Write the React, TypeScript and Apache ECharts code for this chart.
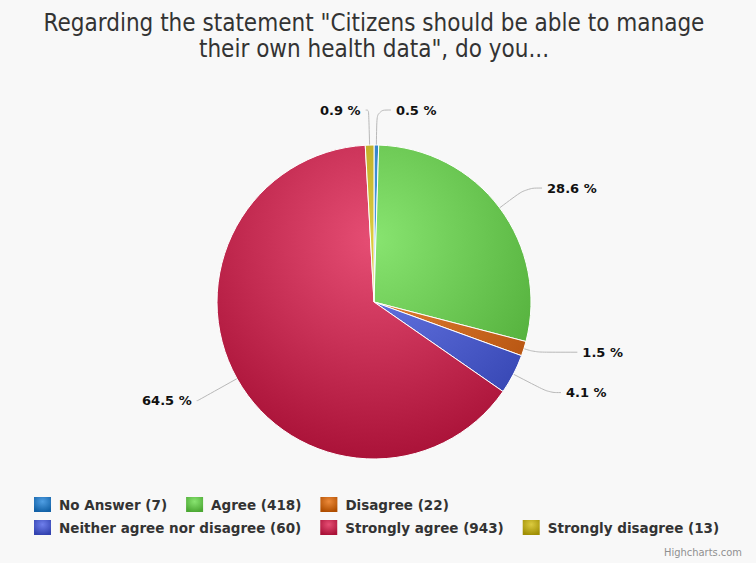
import React, { useEffect, useRef } from "react";
import * as echarts from "echarts";

const categories = [
  "No Answer",
  "Agree",
  "Disagree",
  "Neither agree nor disagree",
  "Strongly agree",
  "Strongly disagree",
];
const counts = [7, 418, 22, 60, 943, 13];
const legendRow1 = ["No Answer", "Agree", "Disagree"];
const legendRow2 = ["Neither agree nor disagree", "Strongly agree", "Strongly disagree"];
const titleText =
  'Regarding the statement "Citizens should be able to manage\ntheir own health data", do you...';
const creditText = "Highcharts.com";

// styling
const baseColors = ["#4f9ee3", "#88e470", "#ec8a3a", "#6f7fec", "#e64e74", "#dccb40"];
const lineLens = [
  [35, 14],
  [33, 16],
  [12, 42],
  [40, 12],
  [45, 1],
  [35, 3],
];

function darken(hex: string, amt: number) {
  const n = parseInt(hex.slice(1), 16);
  const r = Math.max(0, ((n >> 16) & 255) - amt);
  const g = Math.max(0, ((n >> 8) & 255) - amt);
  const b = Math.max(0, (n & 255) - amt);
  return `rgb(${r},${g},${b})`;
}

export default function App() {
  const ref = useRef<HTMLDivElement>(null);
  useEffect(() => {
    if (!ref.current) return;
    const chart = echarts.init(ref.current, undefined, { renderer: "svg" });
    const total = counts.reduce((a, b) => a + b, 0);
    const cx = 374,
      cy = 302,
      R = 157;
    const sliceGrad = (c: string) => ({
      type: "radial",
      x: cx,
      y: cy - R + 0.3 * 2 * R,
      r: 280,
      global: true,
      colorStops: [
        { offset: 0, color: c },
        { offset: 1, color: darken(c, 76) },
      ],
    });
    const localGrad = (c: string) => ({
      type: "radial",
      x: 0.5,
      y: 0.3,
      r: 0.7,
      colorStops: [
        { offset: 0, color: c },
        { offset: 1, color: darken(c, 60) },
      ],
    });
    const legendCommon = {
      orient: "horizontal",
      left: 29,
      itemWidth: 17,
      itemHeight: 15,
      itemGap: 19,
      icon: "rect",
      textStyle: {
        fontFamily: "DejaVu Sans",
        fontWeight: "bold",
        fontSize: 13.5,
        color: "#333",
        padding: [0, 0, 0, 3],
      },
      formatter: (name: string) => `${name} (${counts[categories.indexOf(name)]})`,
    };
    const legendData = (names: string[]) =>
      names.map((n) => ({
        name: n,
        itemStyle: { color: localGrad(baseColors[categories.indexOf(n)]), borderWidth: 0 },
      }));
    chart.setOption({
      animation: false,
      backgroundColor: "#f8f8f8",
      title: {
        text: titleText,
        left: 369,
        top: 5,
        textAlign: "center",
        textStyle: {
          fontFamily: "DejaVu Sans Condensed",
          fontWeight: "normal",
          fontSize: 24,
          lineHeight: 26,
          color: "#333",
          align: "center",
        },
      },
      legend: [
        { ...legendCommon, top: 492, data: legendData(legendRow1) },
        { ...legendCommon, top: 515, data: legendData(legendRow2) },
      ],
      graphic: [
        {
          type: "text",
          right: 14,
          top: 547,
          style: {
            text: creditText,
            fill: "#909090",
            fontSize: 11,
            fontFamily: "DejaVu Sans Condensed",
          },
        },
      ],
      series: [
        {
          type: "pie",
          center: [cx, cy],
          radius: R,
          startAngle: 90,
          clockwise: true,
          avoidLabelOverlap: false,
          itemStyle: { borderColor: "#ffffff", borderWidth: 1 },
          label: {
            show: true,
            position: "outside",
            fontFamily: "DejaVu Sans",
            fontWeight: "bold",
            fontSize: 13,
            color: "#111",
            formatter: (p: any) => `${((counts[p.dataIndex] / total) * 100).toFixed(1)} %`,
          },
          labelLine: {
            show: true,
            smooth: 0.4,
            lineStyle: { color: "#b8b8b8", width: 1 },
          },
          emphasis: { disabled: true },
          data: categories.map((name, i) => ({
            name,
            value: counts[i],
            itemStyle: { color: sliceGrad(baseColors[i]) },
            labelLine: { length: lineLens[i][0], length2: lineLens[i][1] },
          })),
        },
      ],
    });
    return () => chart.dispose();
  }, []);
  return (
    <div
      ref={ref}
      style={{ position: "fixed", left: 0, top: 0, width: 756, height: 563 }}
    />
  );
}
